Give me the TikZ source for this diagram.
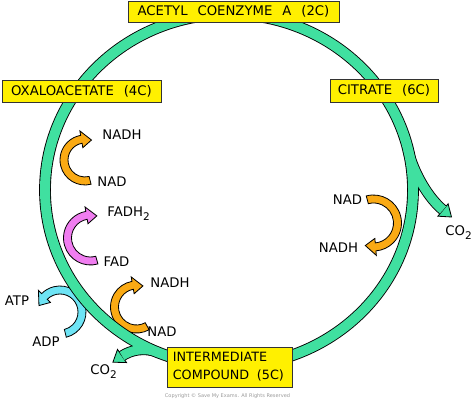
\documentclass[tikz,border=0pt]{standalone}
\usepackage{fontspec}
\setmainfont{DejaVu Sans}
\usepackage{xcolor}
\usetikzlibrary{positioning}

\definecolor{ringgreen}{RGB}{64,224,160}
\definecolor{nadorange}{RGB}{250,170,20}
\definecolor{fadpink}{RGB}{240,125,240}
\definecolor{atpcyan}{RGB}{110,228,245}
\definecolor{boxyellow}{RGB}{255,240,0}

\newcommand{\bw}{4}   % half width of the small arrows
\newcommand{\hw}{4.5} % extra half width of their heads
\newcommand{\gap}{\hspace{0.75em}}
\newcommand{\lowtwo}{\raisebox{-0.45ex}{\fontsize{9}{9}\selectfont 2}}

\tikzset{
  compound/.style={draw=black!80, line width=0.6pt, fill=boxyellow, font=\fontsize{11.3}{15}\selectfont, inner sep=0pt},
  molecule/.style={font=\fontsize{11.3}{13}\selectfont, inner sep=1pt},
  band/.style={draw=black, line width=0.7pt, line join=miter},
}

% centre x, centre y, radius, start angle, end angle, tip angle, colour
\newcommand{\cyclearrow}[7]{%
  \begin{scope}[shift={(#1,#2)}]
    \draw[band, fill=#7] ({#4}:{#3+\bw}) arc[start angle=#4, end angle=#5, radius=#3+\bw]
      -- ({#5}:{#3+\bw+\hw}) -- ({#6}:{#3}) -- ({#5}:{#3-\bw-\hw}) -- ({#5}:{#3-\bw})
      arc[start angle=#5, end angle=#4, radius=#3-\bw] -- cycle;
  \end{scope}}

\begin{document}
\begin{tikzpicture}[x=0.03cm, y=0.03cm]
  \useasboundingbox (0,0) rectangle (474,402);

  % Small arrows
  \cyclearrow{85}{242}{21}{284}{100}{72}{nadorange}
  \cyclearrow{90.5}{164}{23}{286}{100}{74}{fadpink}
  \cyclearrow{136.5}{95}{22}{299}{100}{73}{nadorange}
  \cyclearrow{60}{90}{22}{-76}{135}{163}{atpcyan}
  \cyclearrow{373.5}{179}{24}{105}{-85}{-110}{nadorange}

  % Draw ring
  \coordinate (ringC) at (229,212);
  \coordinate (splitR) at (408,252);
  \coordinate (headR) at (443,192);
  \coordinate (splitL) at (158,49.6);
  \coordinate (headL) at (122,46);
  \draw[black, line width=10pt] (ringC) ellipse [x radius=184, y radius=176];
  \draw[black, line width=9.4pt] (splitR) .. controls (414,227.7) and (429,203.5) .. (headR);
  \draw[black, line width=9.4pt] (splitL) .. controls (144,55.2) and (130.3,51.6) .. (headL);
  \draw[band, fill=ringgreen] (448.1,198.2) -- (451.5,185) -- (437.9,185.8) -- cycle;
  \draw[band, fill=ringgreen] (126.5,39.4) -- (112.9,39.8) -- (117.5,52.6) -- cycle;
  \draw[ringgreen, line width=8.5pt] (ringC) ellipse [x radius=184, y radius=176];
  \draw[ringgreen, line width=7.9pt] (splitR) .. controls (414,227.7) and (429,203.5) .. (headR);
  \draw[ringgreen, line width=7.9pt] (splitL) .. controls (144,55.2) and (130.3,51.6) .. (headL);

  % Boxes
  \node[compound, minimum width=6.33cm, minimum height=0.63cm] (acetyl) at (233.5,390.5) {ACETYL\gap COENZYME\gap A\gap (2C)};
  \node[compound, minimum width=4.77cm, minimum height=0.66cm] (oxalo) at (81.5,311) {OXALOACETATE\gap (4C)};
  \node[compound, minimum width=3.24cm, minimum height=0.69cm] (citrate) at (384,311.5) {CITRATE\gap (6C)};
  \node[compound, font=\fontsize{10.9}{15.3}\selectfont, minimum width=3.75cm, minimum height=1.2cm, text width=3.4cm, align=left] (inter) at (229.5,35) {INTERMEDIATE\\COMPOUND\hspace{0.6em}(5C)};

  % Labels
  \node[molecule] (nadhA) at (122,267) {NADH};
  \node[molecule] (nadA) at (112,220) {NAD};
  \node[molecule, anchor=base west] (fadh) at (106,185) {FADH\lowtwo};
  \node[molecule] (fad) at (116.5,140) {FAD};
  \node[molecule] (nadhB) at (170,119) {NADH};
  \node[molecule] (nadB) at (162,70) {NAD};
  \node[molecule] (atp) at (17,101) {ATP};
  \node[molecule] (adp) at (46,60) {ADP};
  \node[molecule, anchor=base west] (co2L) at (89,27) {CO\lowtwo};
  \node[molecule] (nadC) at (347.5,202) {NAD};
  \node[molecule] (nadhC) at (338.5,154) {NADH};
  \node[molecule, anchor=base west] (co2R) at (444,166) {CO\lowtwo};
  \node[font=\fontsize{4.3}{5}\selectfont, text=black!40] (copyright) at (227.5,6) {Copyright © Save My Exams. All Rights Reserved};
\end{tikzpicture}
\end{document}
